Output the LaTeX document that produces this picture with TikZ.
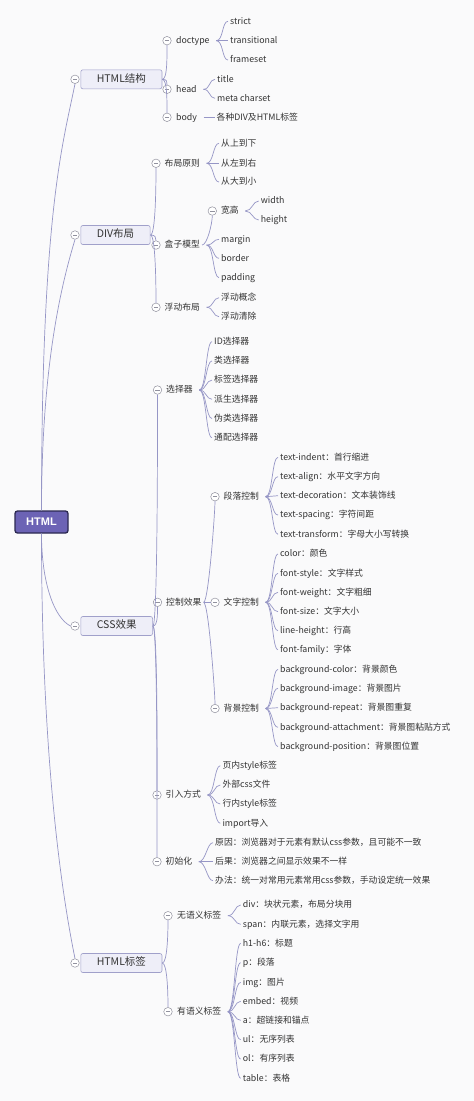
\documentclass[tikz,border=0pt]{standalone}
\usepackage{fontspec}
\setmainfont{Noto Sans CJK SC}
\newfontfamily\rootfont{Liberation Sans}
\usetikzlibrary{positioning}

\definecolor{linec}{RGB}{150,150,198}
\definecolor{foldc}{RGB}{145,145,158}
\definecolor{topicfill}{RGB}{238,238,248}
\definecolor{topicline}{RGB}{160,160,202}
\definecolor{rootfill}{RGB}{108,99,181}
\definecolor{rootline}{RGB}{44,41,82}
\definecolor{txt}{RGB}{51,51,51}
\definecolor{bg}{RGB}{250,250,251}

\tikzset{
	link/.style={color=linec, line width=0.7pt},
	lbl/.style={anchor=west, inner xsep=2pt, inner ysep=1pt, text height=7.5pt, text depth=2pt,
		font=\fontsize{8.8}{10}\selectfont, text=txt},
	fold/.style={circle, draw=foldc, fill=white, minimum size=8.5pt, inner sep=0pt, line width=0.5pt,
		path picture={\draw[foldc, line width=0.5pt] ([xshift=2pt]path picture bounding box.west)
			-- ([xshift=-2pt]path picture bounding box.east);}},
	topic/.style={draw=topicline, fill=topicfill, rounded corners=2pt, line width=0.6pt,
		minimum height=19pt, inner xsep=16pt, text height=8pt, text depth=2.5pt,
		font=\fontsize{10.5}{12}\selectfont, text=txt},
	root/.style={draw=rootline, fill=rootfill, rounded corners=2.5pt, line width=1.3pt,
		minimum width=53pt, minimum height=22pt, text=white, font=\rootfont\bfseries\fontsize{11}{13}\selectfont},
	brace/.style={to path={([xshift=4.5pt]\tikztostart.east) .. controls +(7,0) and +(-6,0) .. (\tikztotarget.west)}},
	branchup/.style={to path={(\tikztostart.east) .. controls +(5,0) and +(0,#1) .. (\tikztotarget.south)}},
	branchup/.default=10,
	branchdown/.style={to path={(\tikztostart.east) .. controls +(5,0) and +(0,-#1) .. (\tikztotarget.north)}},
	branchdown/.default=10
}

\begin{document}
\begin{tikzpicture}[x=1pt, y=-1pt]
	% Background
	\fill [bg] (0,0) rectangle (474,1101);
	\useasboundingbox (0,0) rectangle (474,1101);

	% Root and topics
	\node [root] (html) at (41.5,522) {HTML};
	\node [fold] (c-struct) at (75,79.3) {};
	\node [topic, right=1pt of c-struct] (struct) {HTML结构};
	\node [fold] (c-div) at (75,235) {};
	\node [topic, right=1pt of c-div] (div) {DIV布局};
	\node [fold] (c-css) at (75,626) {};
	\node [topic, right=1pt of c-css] (css) {CSS效果};
	\node [fold] (c-tag) at (75,963) {};
	\node [topic, right=1pt of c-tag] (tag) {HTML标签};

	% HTML结构
	\node [fold] (c-doctype) at (167,40.7) {};
	\node [lbl, right=2.5pt of c-doctype] (doctype) {doctype};
	\node [fold] (c-head) at (167,89.3) {};
	\node [lbl, right=2.5pt of c-head] (head) {head};
	\node [fold] (c-body) at (167,117.3) {};
	\node [lbl, right=2.5pt of c-body] (body) {body};
	\node [lbl] (strict)   at (228,21.3) {strict};
	\node [lbl] (trans)    at (228,40.7) {transitional};
	\node [lbl] (frameset) at (228,60)   {frameset};
	\node [lbl] (title)    at (215,79.3) {title};
	\node [lbl] (meta)     at (215,98.3) {meta charset};
	\node [lbl] (alltags)  at (214.5,117.3) {各种DIV及HTML标签};

	% DIV布局
	\node [fold] (c-rule) at (156,163.3) {};
	\node [lbl, right=2pt of c-rule] (rule) {布局原则};
	\node [fold] (c-boxm) at (156,245) {};
	\node [lbl, right=2pt of c-boxm] (boxm) {盒子模型};
	\node [fold] (c-float) at (156,307.3) {};
	\node [lbl, right=2pt of c-float] (float) {浮动布局};
	\node [lbl] (topdown)   at (219,143.3) {从上到下};
	\node [lbl] (leftright) at (219,163.3) {从左到右};
	\node [lbl] (bigsmall)  at (219,182)   {从大到小};
	\node [fold] (c-wh) at (212.3,211) {};
	\node [lbl, right=2pt of c-wh] (wh) {宽高};
	\node [lbl] (width)   at (258.7,201)   {width};
	\node [lbl] (height)  at (258.7,220)   {height};
	\node [lbl] (margin)  at (219,239.3) {margin};
	\node [lbl] (border)  at (219,258.3) {border};
	\node [lbl] (padding) at (219,277.7) {padding};
	\node [lbl] (fconcept) at (219,297.7) {浮动概念};
	\node [lbl] (fclear)   at (219,316.7) {浮动清除};

	% CSS效果
	\node [fold] (c-sel) at (157.5,390) {};
	\node [lbl, right=2pt of c-sel] (sel) {选择器};
	\node [lbl] (sel-id)    at (212,341.7) {ID选择器};
	\node [lbl] (sel-class) at (212,360.9) {类选择器};
	\node [lbl] (sel-tag)   at (212,380.1) {标签选择器};
	\node [lbl] (sel-deriv) at (212,399.3) {派生选择器};
	\node [lbl] (sel-pseudo) at (212,418.5) {伪类选择器};
	\node [lbl] (sel-all)   at (212,437.7) {通配选择器};

	\node [fold] (c-ctrl) at (157.5,602.3) {};
	\node [lbl, right=2pt of c-ctrl] (ctrl) {控制效果};
	\node [fold] (c-para) at (215,496.7) {};
	\node [lbl, right=2pt of c-para] (para) {段落控制};
	\node [lbl] (indent) at (278,457.3) {text-indent：首行缩进};
	\node [lbl] (align)  at (278,476.7) {text-align：水平文字方向};
	\node [lbl] (decor)  at (278,495.7) {text-decoration：文本装饰线};
	\node [lbl] (spacing) at (278,515)  {text-spacing：字符间距};
	\node [lbl] (transf) at (278,534.3) {text-transform：字母大小写转换};
	\node [fold] (c-font) at (215,602.3) {};
	\node [lbl, right=2pt of c-font] (font) {文字控制};
	\node [lbl] (color)   at (278,554)   {color：颜色};
	\node [lbl] (fstyle)  at (278,573.3) {font-style：文字样式};
	\node [lbl] (fweight) at (278,592.3) {font-weight：文字粗细};
	\node [lbl] (fsize)   at (278,611.7) {font-size：文字大小};
	\node [lbl] (lheight) at (278,630.7) {line-height：行高};
	\node [lbl] (ffamily) at (278,649.7) {font-family：字体};
	\node [fold] (c-back) at (215,708.5) {};
	\node [lbl, right=2pt of c-back] (back) {背景控制};
	\node [lbl] (bcolor)  at (278,669.3) {background-color：背景颜色};
	\node [lbl] (bimage)  at (278,688.3) {background-image：背景图片};
	\node [lbl] (brepeat) at (278,707.7) {background-repeat：背景图重复};
	\node [lbl] (battach) at (278,727.3) {background-attachment：背景图粘贴方式};
	\node [lbl] (bpos)    at (278,746.7) {background-position：背景图位置};

	\node [fold] (c-import) at (157,795) {};
	\node [lbl, right=2pt of c-import] (import) {引入方式};
	\node [lbl] (inpage)  at (220.3,765.7) {页内style标签};
	\node [lbl] (extcss)  at (220.3,785)   {外部css文件};
	\node [lbl] (inline)  at (220.3,804)   {行内style标签};
	\node [lbl] (atimport) at (220.3,823.3) {import导入};

	\node [fold] (c-init) at (157,861.7) {};
	\node [lbl, right=2pt of c-init] (init) {初始化};
	\node [lbl] (reason) at (213,842.7) {原因：浏览器对于元素有默认css参数，且可能不一致};
	\node [lbl] (result) at (213,861.7) {后果：浏览器之间显示效果不一样};
	\node [lbl] (fix)    at (213,880.7) {办法：统一对常用元素常用css参数，手动设定统一效果};

	% HTML标签
	\node [fold] (c-nosem) at (168,915.7) {};
	\node [lbl, right=2.5pt of c-nosem] (nosem) {无语义标签};
	\node [lbl] (t-div)  at (240.7,905)   {div：块状元素，布局分块用};
	\node [lbl] (t-span) at (240.7,924.3) {span：内联元素，选择文字用};
	\node [fold] (c-sem) at (168,1011.7) {};
	\node [lbl, right=2.5pt of c-sem] (sem) {有语义标签};
	\node [lbl] (t-h)     at (240.7,943.3)  {h1-h6：标题};
	\node [lbl] (t-p)     at (240.7,962.7)  {p：段落};
	\node [lbl] (t-img)   at (240.7,982.3)  {img：图片};
	\node [lbl] (t-embed) at (240.7,1001.3) {embed：视频};
	\node [lbl] (t-a)     at (240.7,1020.3) {a：超链接和锚点};
	\node [lbl] (t-ul)    at (240.7,1039.7) {ul：无序列表};
	\node [lbl] (t-ol)    at (240.7,1059)   {ol：有序列表};
	\node [lbl] (t-table) at (240.7,1078.3) {table：表格};

	% Paths from the root
	\draw [link] (html.north) .. controls +(0,-300) and +(-12,60) .. (c-struct.south);
	\draw [link] (html.north) .. controls +(0,-150) and +(-12,40) .. (c-div.south);
	\draw [link] (html.south) .. controls +(0,50) and +(-16,-8) .. (c-css.west);
	\draw [link] (html.south) .. controls +(0,260) and +(-6,-30) .. (c-tag.north);

	% Paths
	\path [link] (struct) edge [branchup=14]  (c-doctype)
	             (struct) edge [branchdown=3] (c-head)
	             (struct) edge [branchdown=12] (c-body)
	             (doctype) edge [brace] (strict)
	             (doctype) edge [brace] (trans)
	             (doctype) edge [brace] (frameset)
	             (head) edge [brace] (title)
	             (head) edge [brace] (meta)
	             (body) edge [brace] (alltags);

	\path [link] (div) edge [branchup=20]  (c-rule)
	             (div) edge [branchdown=3] (c-boxm)
	             (div) edge [branchdown=20] (c-float)
	             (rule) edge [brace] (topdown)
	             (rule) edge [brace] (leftright)
	             (rule) edge [brace] (bigsmall)
	             (boxm) edge [branchup=8] (c-wh)
	             (boxm) edge [brace] (margin)
	             (boxm) edge [brace] (border)
	             (boxm) edge [brace] (padding)
	             (wh) edge [brace] (width)
	             (wh) edge [brace] (height)
	             (float) edge [brace] (fconcept)
	             (float) edge [brace] (fclear);

	\path [link] (css) edge [branchup=20]  (c-sel)
	             (css) edge [branchup=6]  (c-ctrl)
	             (css) edge [branchdown=20] (c-import)
	             (css) edge [branchdown=20] (c-init)
	             (sel) edge [brace] (sel-id)
	             (sel) edge [brace] (sel-class)
	             (sel) edge [brace] (sel-tag)
	             (sel) edge [brace] (sel-deriv)
	             (sel) edge [brace] (sel-pseudo)
	             (sel) edge [brace] (sel-all)
	             (ctrl) edge [branchup] (c-para)
	             (ctrl) edge (c-font)
	             (ctrl) edge [branchdown] (c-back)
	             (para) edge [brace] (indent)
	             (para) edge [brace] (align)
	             (para) edge [brace] (decor)
	             (para) edge [brace] (spacing)
	             (para) edge [brace] (transf)
	             (font) edge [brace] (color)
	             (font) edge [brace] (fstyle)
	             (font) edge [brace] (fweight)
	             (font) edge [brace] (fsize)
	             (font) edge [brace] (lheight)
	             (font) edge [brace] (ffamily)
	             (back) edge [brace] (bcolor)
	             (back) edge [brace] (bimage)
	             (back) edge [brace] (brepeat)
	             (back) edge [brace] (battach)
	             (back) edge [brace] (bpos)
	             (import) edge [brace] (inpage)
	             (import) edge [brace] (extcss)
	             (import) edge [brace] (inline)
	             (import) edge [brace] (atimport)
	             (init) edge [brace] (reason)
	             (init) edge [brace] (result)
	             (init) edge [brace] (fix);

	\path [link] (tag) edge [branchup=14] (c-nosem)
	             (tag) edge [branchdown=14] (c-sem)
	             (nosem) edge [brace] (t-div)
	             (nosem) edge [brace] (t-span)
	             (sem) edge [brace] (t-h)
	             (sem) edge [brace] (t-p)
	             (sem) edge [brace] (t-img)
	             (sem) edge [brace] (t-embed)
	             (sem) edge [brace] (t-a)
	             (sem) edge [brace] (t-ul)
	             (sem) edge [brace] (t-ol)
	             (sem) edge [brace] (t-table);
\end{tikzpicture}
\end{document}
